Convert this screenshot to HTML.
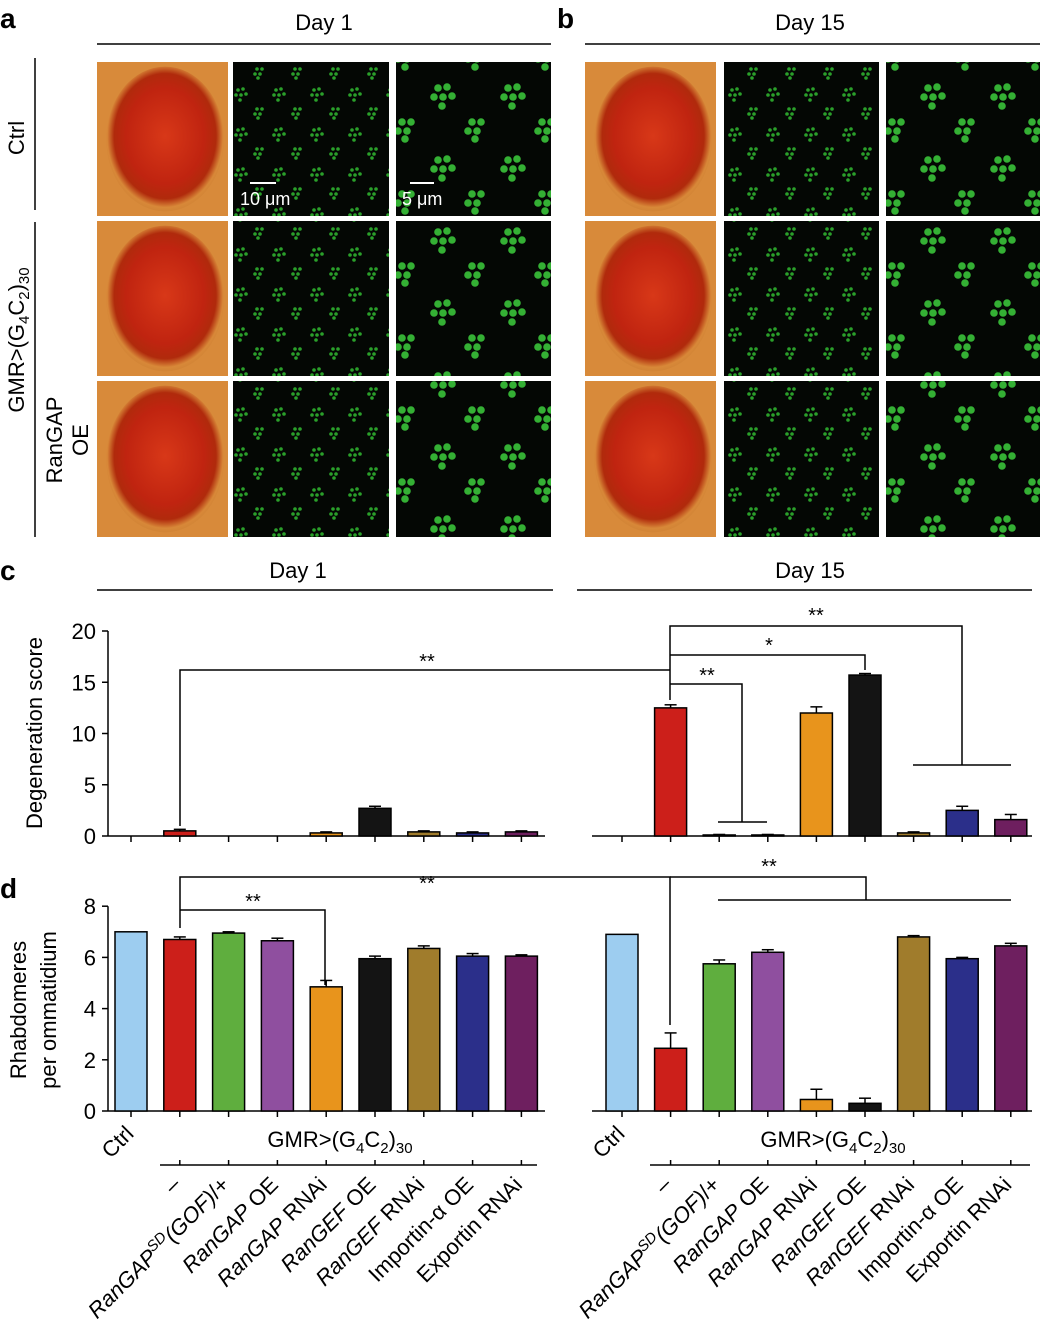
<!DOCTYPE html>
<html><head><meta charset="utf-8"><style>
body{margin:0;background:#fff;}
svg{display:block;font-family:"Liberation Sans",sans-serif;}
</style></head><body>
<svg id="fig" width="1042" height="1343" viewBox="0 0 1042 1343" xmlns="http://www.w3.org/2000/svg">
<defs>
<radialGradient id="eye" cx="50%" cy="48%" r="60%">
<stop offset="0" stop-color="#d83818"/><stop offset="0.55" stop-color="#c02410"/><stop offset="0.72" stop-color="#b02a0c"/><stop offset="0.82" stop-color="#d88838"/><stop offset="1" stop-color="#c07a30"/>
</radialGradient>
<pattern id="omm" width="38" height="40" patternUnits="userSpaceOnUse">
<rect width="38" height="40" fill="#040704"/>
<g fill="#2aa02a"><circle cx="10" cy="10" r="1.8"/><circle cx="15" cy="9" r="1.8"/><circle cx="8" cy="15" r="1.8"/><circle cx="13" cy="15" r="1.8"/><circle cx="18" cy="14" r="1.8"/><circle cx="12" cy="20" r="1.8"/>
<circle cx="29" cy="29" r="1.8"/><circle cx="34" cy="29" r="1.8"/><circle cx="27" cy="34" r="1.8"/><circle cx="32" cy="34" r="1.8"/><circle cx="30" cy="38" r="1.8"/></g>
</pattern>
<pattern id="omm2" width="70" height="72" patternUnits="userSpaceOnUse">
<rect width="70" height="72" fill="#040704"/>
<g fill="#34b034"><circle cx="18" cy="16" r="3.8"/><circle cx="27" cy="15" r="3.8"/><circle cx="14" cy="25" r="3.8"/><circle cx="23" cy="25" r="3.8"/><circle cx="32" cy="24" r="3.8"/><circle cx="22" cy="34" r="3.8"/>
<circle cx="52" cy="50" r="3.8"/><circle cx="61" cy="50" r="3.8"/><circle cx="48" cy="59" r="3.8"/><circle cx="57" cy="59" r="3.8"/><circle cx="55" cy="67" r="3.8"/></g>
</pattern>
</defs>
<g id="photos"></g>
<g id="charts"></g>
</svg>
<script>
const catsLeft = ["Ctrl","–","RanGAP SD (GOF)/+","RanGAP OE","RanGAP RNAi","RanGEF OE","RanGEF RNAi","Importin-α OE","Exportin RNAi"];
const colors = ["#9dcdf0","#cc1f1a","#5fae3e","#8f4f9f","#e8941c","#141414","#a07c2c","#2b2f8a","#6e1f5f"];
const degDay1 = [0,0.5,0,0,0.3,2.7,0.4,0.3,0.4];
const degDay1Err = [0,0.15,0,0,0.1,0.2,0.1,0.1,0.1];
const degDay15 = [0,12.5,0.1,0.1,12.0,15.7,0.3,2.5,1.6];
const degDay15Err = [0,0.3,0.05,0.05,0.6,0.15,0.1,0.4,0.5];
const rhabDay1 = [7.0,6.7,6.95,6.65,4.85,5.95,6.35,6.05,6.05];
const rhabDay1Err = [0,0.1,0.05,0.1,0.25,0.1,0.1,0.1,0.05];
const rhabDay15 = [6.9,2.45,5.75,6.2,0.45,0.3,6.8,5.95,6.45];
const rhabDay15Err = [0,0.6,0.15,0.1,0.4,0.2,0.05,0.05,0.1];
const degTicks = [0,5,10,15,20];
const rhabTicks = [0,2,4,6,8];

const NS="http://www.w3.org/2000/svg";
function mk(parent,tag,attrs,text){const e=document.createElementNS(NS,tag);for(const k in attrs)e.setAttribute(k,attrs[k]);if(text!==undefined)e.textContent=text;parent.appendChild(e);return e;}
const P=document.getElementById('photos'), C=document.getElementById('charts');

let t;
t=mk(P,'text',{x:0,y:28,'font-size':28,'font-weight':'bold'},'a');
t=mk(P,'text',{x:557,y:28,'font-size':28,'font-weight':'bold'},'b');
t=mk(P,'text',{x:324,y:30,'font-size':22,'text-anchor':'middle'},'Day 1');
t=mk(P,'text',{x:810,y:30,'font-size':22,'text-anchor':'middle'},'Day 15');
mk(P,'line',{x1:97,y1:44,x2:551,y2:44,stroke:'#000','stroke-width':1.5});
mk(P,'line',{x1:585,y1:44,x2:1040,y2:44,stroke:'#000','stroke-width':1.5});
t=mk(P,'text',{x:0,y:0,'font-size':22,'text-anchor':'middle',transform:'translate(24,138) rotate(-90)'},'Ctrl');
t=mk(P,'text',{x:0,y:0,'font-size':22,'text-anchor':'middle',transform:'translate(24,340) rotate(-90)'});
t.innerHTML='GMR&gt;(G<tspan font-size="15" dy="5">4</tspan><tspan dy="-5">C</tspan><tspan font-size="15" dy="5">2</tspan><tspan dy="-5">)</tspan><tspan font-size="15" dy="5">30</tspan>';
t=mk(P,'text',{x:0,y:0,'font-size':22,'text-anchor':'middle',transform:'translate(62,440) rotate(-90)'},'RanGAP');
t=mk(P,'text',{x:0,y:0,'font-size':22,'text-anchor':'middle',transform:'translate(88,440) rotate(-90)'},'OE');
mk(P,'line',{x1:35,y1:58,x2:35,y2:210,stroke:'#000','stroke-width':1.5});
mk(P,'line',{x1:35,y1:222,x2:35,y2:537,stroke:'#000','stroke-width':1.5});
const cols=[[97,131],[233,156],[396,155],[585,131],[724,155],[886,154]];
const rows=[[62,154],[221,155],[381,156]];
rows.forEach((r,ri)=>cols.forEach((c,ci)=>{
  const kind=ci%3;
  let fill = kind===0?'#d88a3a':(kind===1?'url(#omm)':'url(#omm2)');
  const g=mk(P,'g',{});
  
  
  mk(g,'rect',{x:c[0],y:r[0],width:c[1],height:r[1],fill:fill});
  if(kind===0){mk(g,'ellipse',{cx:c[0]+c[1]*0.52,cy:r[0]+r[1]*0.5,rx:c[1]*0.45,ry:r[1]*0.47,fill:'url(#eye)'});}
}));
mk(P,'line',{x1:250,y1:183,x2:276,y2:183,stroke:'#fff','stroke-width':2});
mk(P,'text',{x:240,y:205,'font-size':18,fill:'#fff'},'10 μm');
mk(P,'line',{x1:410,y1:183,x2:434,y2:183,stroke:'#fff','stroke-width':2});
mk(P,'text',{x:402,y:205,'font-size':18,fill:'#fff'},'5 μm');

t=mk(C,'text',{x:0,y:580,'font-size':28,'font-weight':'bold'},'c');
t=mk(C,'text',{x:298,y:578,'font-size':22,'text-anchor':'middle'},'Day 1');
t=mk(C,'text',{x:810,y:578,'font-size':22,'text-anchor':'middle'},'Day 15');
mk(C,'line',{x1:97,y1:590,x2:553,y2:590,stroke:'#000','stroke-width':1.5});
mk(C,'line',{x1:577,y1:590,x2:1032,y2:590,stroke:'#000','stroke-width':1.5});
t=mk(C,'text',{x:0,y:898,'font-size':28,'font-weight':'bold'},'d');

const leftX=i=>131+i*48.8, rightX=i=>622+i*48.6;
const degY=v=>836-v*10.25, rhabY=v=>1111-v*25.6;
const BW=32;
function bars(vals,errs,xf,yf,base,name){
  vals.forEach((v,i)=>{
    const x=xf(i), y=yf(v);
    const r=mk(C,'rect',{x:x-BW/2,y:y,width:BW,height:base-y,fill:colors[i],stroke:'#000','stroke-width':1.5});
    
    
    if(errs[i]>0){const ye=yf(v+errs[i]);mk(C,'line',{x1:x,y1:y,x2:x,y2:ye,stroke:'#000','stroke-width':1.5});mk(C,'line',{x1:x-6,y1:ye,x2:x+6,y2:ye,stroke:'#000','stroke-width':1.5});}
  });
}
function axes(ticks,yf,base,x0,x1,withY,xf){
  mk(C,'line',{x1:x0,y1:base,x2:x1,y2:base,stroke:'#000','stroke-width':1.5});
  for(let i=0;i<9;i++)mk(C,'line',{x1:xf(i),y1:base,x2:xf(i),y2:base+6,stroke:'#000','stroke-width':1.5});
  if(withY){
    mk(C,'line',{x1:x0,y1:yf(ticks[ticks.length-1]),x2:x0,y2:base,stroke:'#000','stroke-width':1.5});
    ticks.forEach(v=>{mk(C,'line',{x1:x0-6,y1:yf(v),x2:x0,y2:yf(v),stroke:'#000','stroke-width':1.5});
      const tl=mk(C,'text',{x:x0-12,y:yf(v)+8,'font-size':22,'text-anchor':'end'},String(v));
      
      });
  }
}
axes(degTicks,degY,836,108,545,true,leftX);
axes(degTicks,degY,836,592,1032,false,rightX);
axes(rhabTicks,rhabY,1111,108,545,true,leftX);
axes(rhabTicks,rhabY,1111,592,1032,false,rightX);
bars(degDay1,degDay1Err,leftX,degY,836,'deg-day1');
bars(degDay15,degDay15Err,rightX,degY,836,'deg-day15');
bars(rhabDay1,rhabDay1Err,leftX,rhabY,1111,'rhab-day1');
bars(rhabDay15,rhabDay15Err,rightX,rhabY,1111,'rhab-day15');

t=mk(C,'text',{x:0,y:0,'font-size':22,'text-anchor':'middle',transform:'translate(42,733) rotate(-90)'},'Degeneration score');
t=mk(C,'text',{x:0,y:0,'font-size':22,'text-anchor':'middle',transform:'translate(26,1010) rotate(-90)'},'Rhabdomeres');
t=mk(C,'text',{x:0,y:0,'font-size':22,'text-anchor':'middle',transform:'translate(56,1010) rotate(-90)'},'per ommatidium');

function pl(pts){mk(C,'polyline',{points:pts,fill:'none',stroke:'#000','stroke-width':1.5});}
function star(x,y,s){const e=mk(C,'text',{x:x,y:y,'font-size':20,'text-anchor':'middle'},s);}
pl('180,826 180,670 670,670');star(427,668,'**');
pl('670,700 670,626 962,626 962,765');pl('913,765 1011,765');star(816,622,'**');
pl('670,655 865,655 865,670');star(769,652,'*');
pl('670,684 742,684 742,822');pl('718,822 767,822');star(707,682,'**');
pl('180,928 180,877 670,877 670,1025');star(427,890,'**');
pl('180,910 325,910 325,985');star(253,908,'**');
pl('670,877 866,877 866,900');pl('718,900 1011,900');star(769,873,'**');

function gmr(x,y){const e=mk(C,'text',{x:x,y:y,'font-size':22,'text-anchor':'middle'});e.innerHTML='GMR&gt;(G<tspan font-size="15" dy="6">4</tspan><tspan dy="-6">C</tspan><tspan font-size="15" dy="6">2</tspan><tspan dy="-6">)</tspan><tspan font-size="15" dy="6">30</tspan>';}
gmr(340,1147);gmr(833,1147);
mk(C,'line',{x1:160,y1:1165,x2:537,y2:1165,stroke:'#000','stroke-width':1.5});
mk(C,'line',{x1:650,y1:1165,x2:1030,y2:1165,stroke:'#000','stroke-width':1.5});
function xl(xf,side){
  const c=mk(C,'text',{x:0,y:0,'font-size':22,'text-anchor':'end',transform:`translate(${xf(0)+4},1135) rotate(-45)`},'Ctrl');
  
  for(let i=1;i<9;i++){
    mk(C,'line',{x1:xf(i),y1:1160,x2:xf(i),y2:1165,stroke:'#000','stroke-width':1.5});
    const e=mk(C,'text',{x:0,y:0,'font-size':22,'text-anchor':'end',transform:`translate(${xf(i)+2},1186) rotate(-45)`});
    const n=catsLeft[i];
    if(i===2) e.innerHTML='<tspan font-style="italic">RanGAP</tspan><tspan font-size="15" dy="-8" font-style="italic">SD</tspan><tspan dy="8" font-style="italic">(GOF)</tspan>/+';
    else if(n.includes(' ')&&n.startsWith('Ran')){const p=n.split(' ');e.innerHTML='<tspan font-style="italic">'+p[0]+'</tspan> '+p[1];}
    else e.textContent=n;
    
    
  }
}
xl(leftX,'left');xl(rightX,'right');
</script>
</body></html>
